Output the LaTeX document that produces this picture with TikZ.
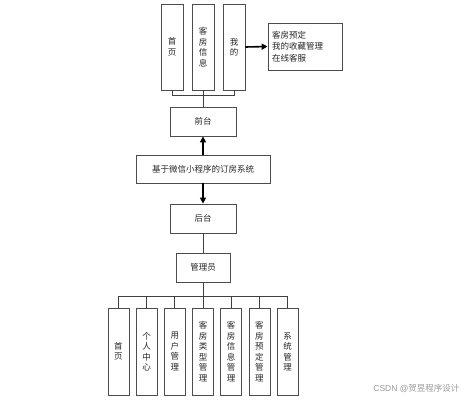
\documentclass[tikz,border=0pt]{standalone}
\usepackage{fontspec}
\setmainfont{Liberation Sans}
\newfontfamily\cjk{Noto Sans CJK SC}
\usetikzlibrary{arrows.meta}

\tikzset{
  box/.style={draw=black!70, line width=0.8pt, inner sep=0pt, align=center,
    font=\cjk\fontsize{8.5}{10.5}\selectfont, text=black!85},
  tallbox/.style={box, minimum width=22pt, minimum height=86pt},
  midbox/.style={box, minimum width=66pt, minimum height=29pt},
  lowbox/.style={box, minimum width=21pt, minimum height=87pt},
  link/.style={draw=black!75, line width=0.9pt},
  flow/.style={draw=black, line width=1.6pt, -{Triangle[length=6pt,width=6pt]}},
}

\begin{document}
\begin{tikzpicture}[x=1pt,y=-1pt]
\useasboundingbox (0,0) rectangle (474,400);
% front end
\node [tallbox] (home) at (172,47) {首\\页};
\node [tallbox] (room) at (203,47) {客\\房\\信\\息};
\node [tallbox] (mine) at (234,47) {我\\的};
\node [box, minimum width=74pt, minimum height=47pt, inner xsep=4pt, text width=66pt,
  align=left, font=\cjk\fontsize{8.5}{11.5}\selectfont] (mineitems) at (305,46.5)
  {客房预定\\我的收藏管理\\在线客服};
\node [midbox] (front) at (203,121.5) {前台};
% system
\node [box, minimum width=134pt, minimum height=28pt] (sys) at (203,169) {基于微信小程序的订房系统};
% back end
\node [midbox] (back) at (203,218.5) {后台};
\node [box, minimum width=54pt, minimum height=29pt] (admin) at (203,267.5) {管理员};
\foreach \txt [count=\i] in {首\\页, 个\\人\\中\\心, 用\\户\\管\\理, 客\\房\\类\\型\\管\\理,
    客\\房\\信\\息\\管\\理, 客\\房\\预\\定\\管\\理, 系\\统\\管\\理}
  \node [lowbox] (m\i) at ({203+28.2*(\i-4)},351.5) {\txt};

% connectors
\draw [flow] (mine.east) -- (mineitems.west);
\draw [link] (home.south) -- ++(0,5) -| (mine.south);
\draw [link] (room.south) -- (front.north);
\draw [flow] (sys.north) -- (front.south);
\draw [flow] (sys.south) -- (back.north);
\draw [link] (back.south) -- (admin.north);
\draw [link] (admin.south) -- (m4.north);
\draw [link] (m1.north) -- ++(0,-11) -| (m7.north);
\foreach \i in {2,3,5,6}
  \draw [link] (m\i.north) -- ++(0,-11);

% watermark
\node [text=black!40, font=\fontsize{8.5}{10}\selectfont, anchor=east] (mark) at (463,388)
  {CSDN @{\cjk 贺昱程序设计}};
\end{tikzpicture}
\end{document}
